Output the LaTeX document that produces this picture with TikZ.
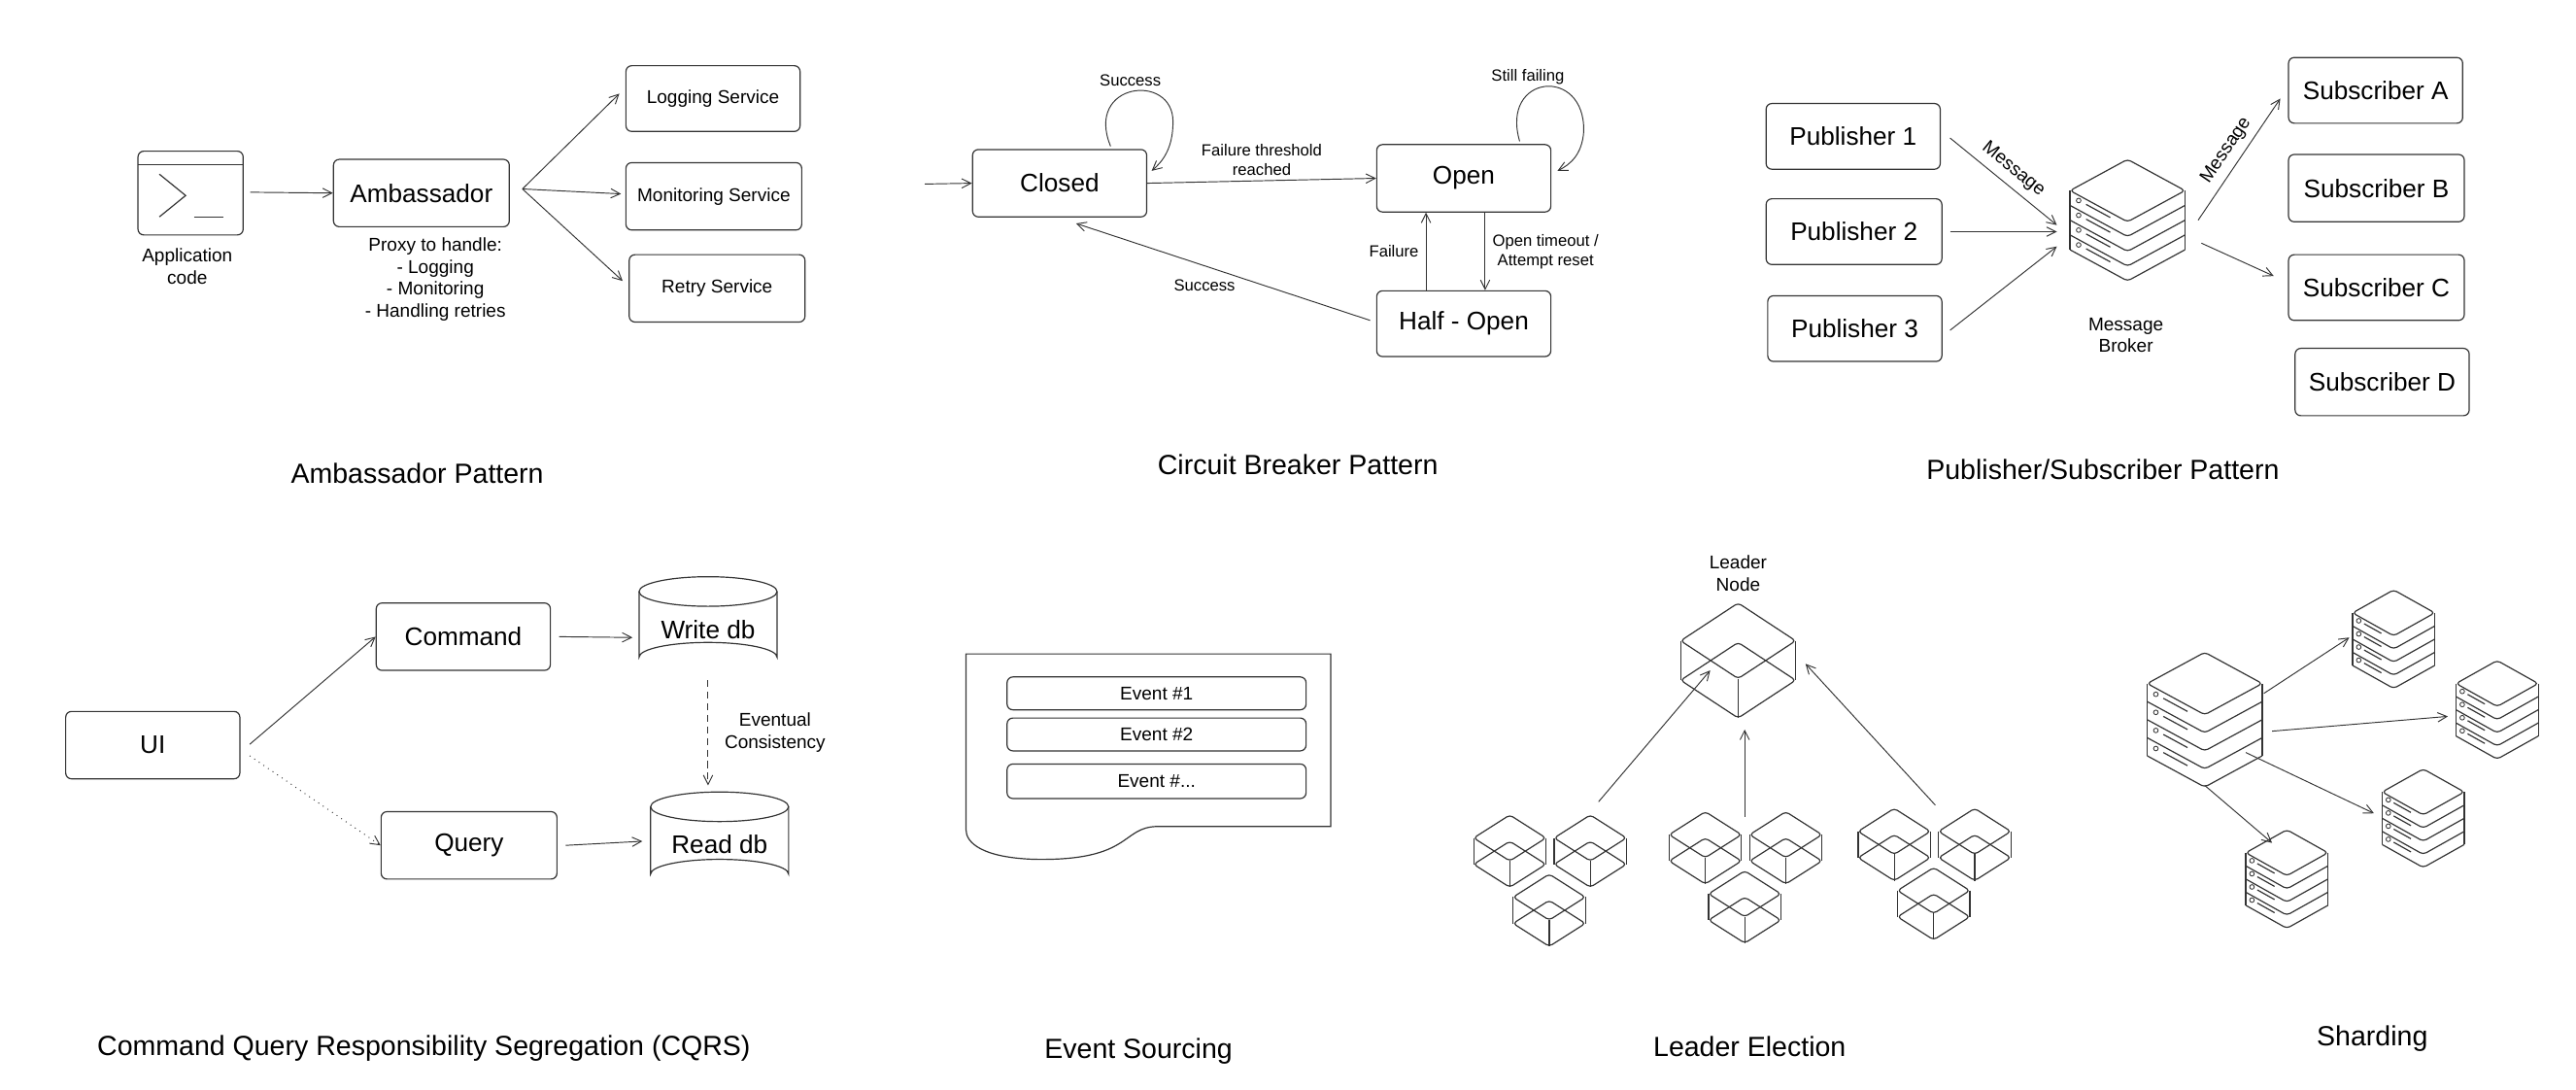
\documentclass[tikz,border=0pt]{standalone}
\usepackage{fontspec}
\setmainfont{Liberation Sans}
\usetikzlibrary{arrows.meta}
\newcommand\fs[1]{\fontsize{#1pt}{\dimexpr#1pt*12/10\relax}\selectfont}
\tikzset{
 ln/.style={draw=black!80, line width=0.5pt},
 box/.style={ln, rounded corners=2.5pt, inner sep=0pt, font=\fs{11}},
 sbox/.style={box, font=\fs{8}},
 lbl/.style={font=\fs{7}, align=center, inner sep=1pt},
 ttl/.style={font=\fs{12}},
 ar/.style={ln, line width=0.4pt, -{Straight Barb[length=4pt,width=4pt]}},
 ic/.style={ln, line width=0.5pt, rounded corners=1.5pt, line join=round},
}
% box: name, x1,y1,x2,y2, style, text
\newcommand\bx[7]{\node[#6, minimum width={(#4-#2)*0.25mm}, minimum height={(#5-#3)*0.25mm}] (#1) at ({(#2+#4)/2},{(#3+#5)/2}) {#7};}
% cube: cx, ty, w, h, d
\newcommand\cubeic[5]{%
 \draw[ic] ({#1-#3},{#2+#4}) -- (#1,#2) -- ({#1+#3},{#2+#4}) -- (#1,{#2+2*#4}) -- cycle;
 \draw[ic] ({#1-#3},{#2+#4+#5}) -- (#1,{#2+#5}) -- ({#1+#3},{#2+#4+#5}) -- (#1,{#2+2*#4+#5}) -- cycle;
 \draw[ic] ({#1-#3},{#2+#4}) -- ({#1-#3},{#2+#4+#5});
 \draw[ic] ({#1+#3},{#2+#4}) -- ({#1+#3},{#2+#4+#5});
 \draw[ic] (#1,{#2+2*#4}) -- (#1,{#2+2*#4+#5});}
% server: cx, ty, w, h, L (4 layers)
\newcommand\srvic[5]{%
 \draw[ic] ({#1-#3},{#2+#4}) -- (#1,#2) -- ({#1+#3},{#2+#4}) -- (#1,{#2+2*#4}) -- cycle;
 \draw[ic] ({#1-#3},{#2+#4}) -- ({#1-#3},{#2+#4+4*#5});
 \draw[ic] ({#1+#3},{#2+#4}) -- ({#1+#3},{#2+#4+4*#5});
 \foreach \k in {1,2,3,4}{
  \draw[ic] ({#1-#3},{#2+#4+\k*#5}) -- (#1,{#2+2*#4+\k*#5}) -- ({#1+#3},{#2+#4+\k*#5});
  \draw[ln,line width=0.35pt] ({#1-0.85*#3},{#2+#4+0.2*#4+(\k-0.75)*#5}) circle (0.35mm);
  \draw[ln,line width=0.5pt] ({#1-0.72*#3},{#2+#4+0.3*#4+(\k-0.7)*#5}) -- ({#1-0.3*#3},{#2+#4+0.72*#4+(\k-0.7)*#5});
 }}
\begin{document}
\begin{tikzpicture}[x=0.25mm,y=-0.25mm]
\useasboundingbox (0,0) rectangle (1568,663);
% ===== Ambassador
\draw[ic,rounded corners=2.5pt] (84,92) rectangle (148,143);
\draw[ln] (84,100) -- (148,100);
\draw[ln] (97,106) -- (113,119) -- (97,132);
\draw[ln] (118,132) -- (136,132);
\node[draw=none,minimum width=16mm,minimum height=13mm] (app) at (116,117) {};
\node[lbl,font=\fs{8}] (applbl) at (114,162) {Application\\code};
\bx{amb}{203}{97}{310}{138}{box}{Ambassador}
\node[lbl,font=\fs{8}] (proxy) at (265,170) {Proxy to handle:\\- Logging\\- Monitoring\\- Handling retries};
\bx{log}{381}{40}{487}{80}{sbox}{Logging Service}
\bx{mon}{381}{99}{488}{140}{sbox}{Monitoring Service}
\bx{ret}{383}{155}{490}{196}{sbox}{Retry Service}
\draw[ar] (app.east) ++(4,0) coordinate (a0) (a0) -- (amb.west);
\coordinate (ambo) at (318,115);
\draw[ar] (ambo) -- (377,57);
\draw[ar] (ambo) -- (378,118);
\draw[ar] (ambo) -- (379,171);
\node[ttl] (t1) at (254,288) {Ambassador Pattern};
% ===== Circuit breaker
\bx{closed}{592}{91}{698}{132}{box}{Closed}
\bx{open}{838}{88}{944}{129}{box}{Open}
\bx{half}{838}{177}{944}{217}{box}{Half - Open}
\coordinate (cin) at (563,112);
\draw[ar] (cin) -- (closed.west);
\draw[ar] (closed.east) -- node[lbl,above=1pt] {Failure threshold\\reached} (open.west);
\draw[ar] (676,89) .. controls (660,50) and (714,44) .. (714,74) .. controls (714,90) and (708,98) .. (701,104);
\node[lbl] at (688,49) {Success};
\draw[ar] (925,86) .. controls (913,45) and (965,40) .. (964,80) .. controls (963,94) and (956,100) .. (948,104);
\node[lbl] at (930,47) {Still failing};
\draw[ar] (open.south -| 904,0) -- node[lbl,right=2pt] {Open timeout /\\Attempt reset} (half.north -| 904,0);
\draw[ar] (half.north -| 868,0) -- node[lbl,left=2pt] {Failure} (open.south -| 868,0);
\draw[ar] (834,195) -- node[lbl,below left=0pt, pos=0.45] {Success} (655,136);
\node[ttl] (t2) at (790,283) {Circuit Breaker Pattern};
% ===== Pub/Sub
\bx{p1}{1075}{63}{1181}{103}{box}{Publisher 1}
\bx{p2}{1075}{121}{1182}{161}{box}{Publisher 2}
\bx{p3}{1076}{180}{1182}{220}{box}{Publisher 3}
\srvic{1295}{97}{35}{19}{9}
\node[draw=none,minimum width=18mm,minimum height=19mm] (broker) at (1295,134) {};
\node[lbl,font=\fs{8}] (brl) at (1294,204) {Message\\Broker};
\bx{sa}{1393}{35}{1499}{75}{box}{Subscriber A}
\bx{sb}{1393}{94}{1500}{135}{box}{Subscriber B}
\bx{sc}{1393}{155}{1500}{195}{box}{Subscriber C}
\bx{sd}{1397}{212}{1503}{253}{box}{Subscriber D}
\draw[ar] (1187,84) -- node[lbl,sloped,above=2pt,font=\fs{8}] {Message} (1252,137);
\draw[ar] (1187,141) -- (1252,141);
\draw[ar] (1187,201) -- (1252,150);
\draw[ar] (1338,134) -- node[lbl,sloped,above=2pt,font=\fs{8}] {Message} (1388,60);
\draw[ar] (1340,148) -- (1384,168);
\node[ttl] (t3) at (1280,286) {Publisher/Subscriber Pattern};
% ===== CQRS
\bx{ui}{40}{433}{146}{474}{box}{UI}
\bx{cmd}{229}{367}{335}{408}{box}{Command}
\bx{qry}{232}{494}{339}{535}{box}{Query}
\node[draw=none,minimum width=21mm,minimum height=14.5mm,font=\fs{11}] (wdb) at (431,383) {Write db};
\node[draw=none,minimum width=21mm,minimum height=14.5mm,font=\fs{11}] (rdb) at (438,514) {Read db};
\draw[ln] (389,360) -- (389,400) arc[start angle=180,end angle=360,x radius=42,y radius=9] -- (473,360);
\draw[ln] (431,360) ellipse[x radius=42,y radius=9];
\draw[ln] (396,491) -- (396,532) arc[start angle=180,end angle=360,x radius=42,y radius=9] -- (480,491);
\draw[ln] (438,491) ellipse[x radius=42,y radius=9];
\draw[ar] (152,453) -- (cmd.west);
\draw[ar,dotted] (152,460) -- (qry.west);
\draw[ar] (cmd.east) ++(5,0) -- (385,388);
\draw[ar] (qry.east) ++(5,0) -- (391,512);
\draw[ar,densely dashed] (431,414) -- node[lbl,right=6pt,font=\fs{8}] {Eventual\\Consistency} (431,478);
\node[ttl] (t4) at (258,638) {Command Query Responsibility Segregation (CQRS)};
% ===== Event sourcing
\draw[ln] (588,398) -- (810,398) -- (810,503) -- (705,503) .. controls (682,503) and (690,524) .. (630,523) .. controls (598,522) and (588,513) .. (588,505) -- cycle;
\bx{e1}{613}{412}{795}{432}{sbox}{Event \#1}
\bx{e2}{613}{437}{795}{457}{sbox}{Event \#2}
\bx{e3}{613}{465}{795}{486}{sbox}{Event \#...}
\node[ttl] (t5) at (693,640) {Event Sourcing};
% ===== Leader election
\node[lbl,font=\fs{8}] (ldl) at (1058,349) {Leader\\Node};
\cubeic{1058}{367}{35}{23}{24}
\foreach \cx/\ty in {919/496,968/496,943/532,1038/494,1087/494,1062/530,1153/492,1202/492,1177/528}{
 \cubeic{\cx}{\ty}{22}{14}{16}}
\draw[ar] (973,488) -- (1041,408);
\draw[ar] (1062,497) -- (1062,444);
\draw[ar] (1178,490) -- (1099,404);
\node[ttl] (t6) at (1065,637) {Leader Election};
% ===== Sharding
\srvic{1342}{397}{35}{19}{11}
\srvic{1457}{359}{25}{14}{8}
\srvic{1520}{402}{25}{14}{8}
\srvic{1475}{468}{25}{14}{8}
\srvic{1392}{505}{25}{14}{8}
\draw[ar] (1378,422) -- (1430,388);
\draw[ar] (1383,445) -- (1490,436);
\draw[ar] (1367,458) -- (1445,495);
\draw[ar] (1342,478) -- (1383,513);
\node[ttl] (t7) at (1444,632) {Sharding};
\end{tikzpicture}
\end{document}
